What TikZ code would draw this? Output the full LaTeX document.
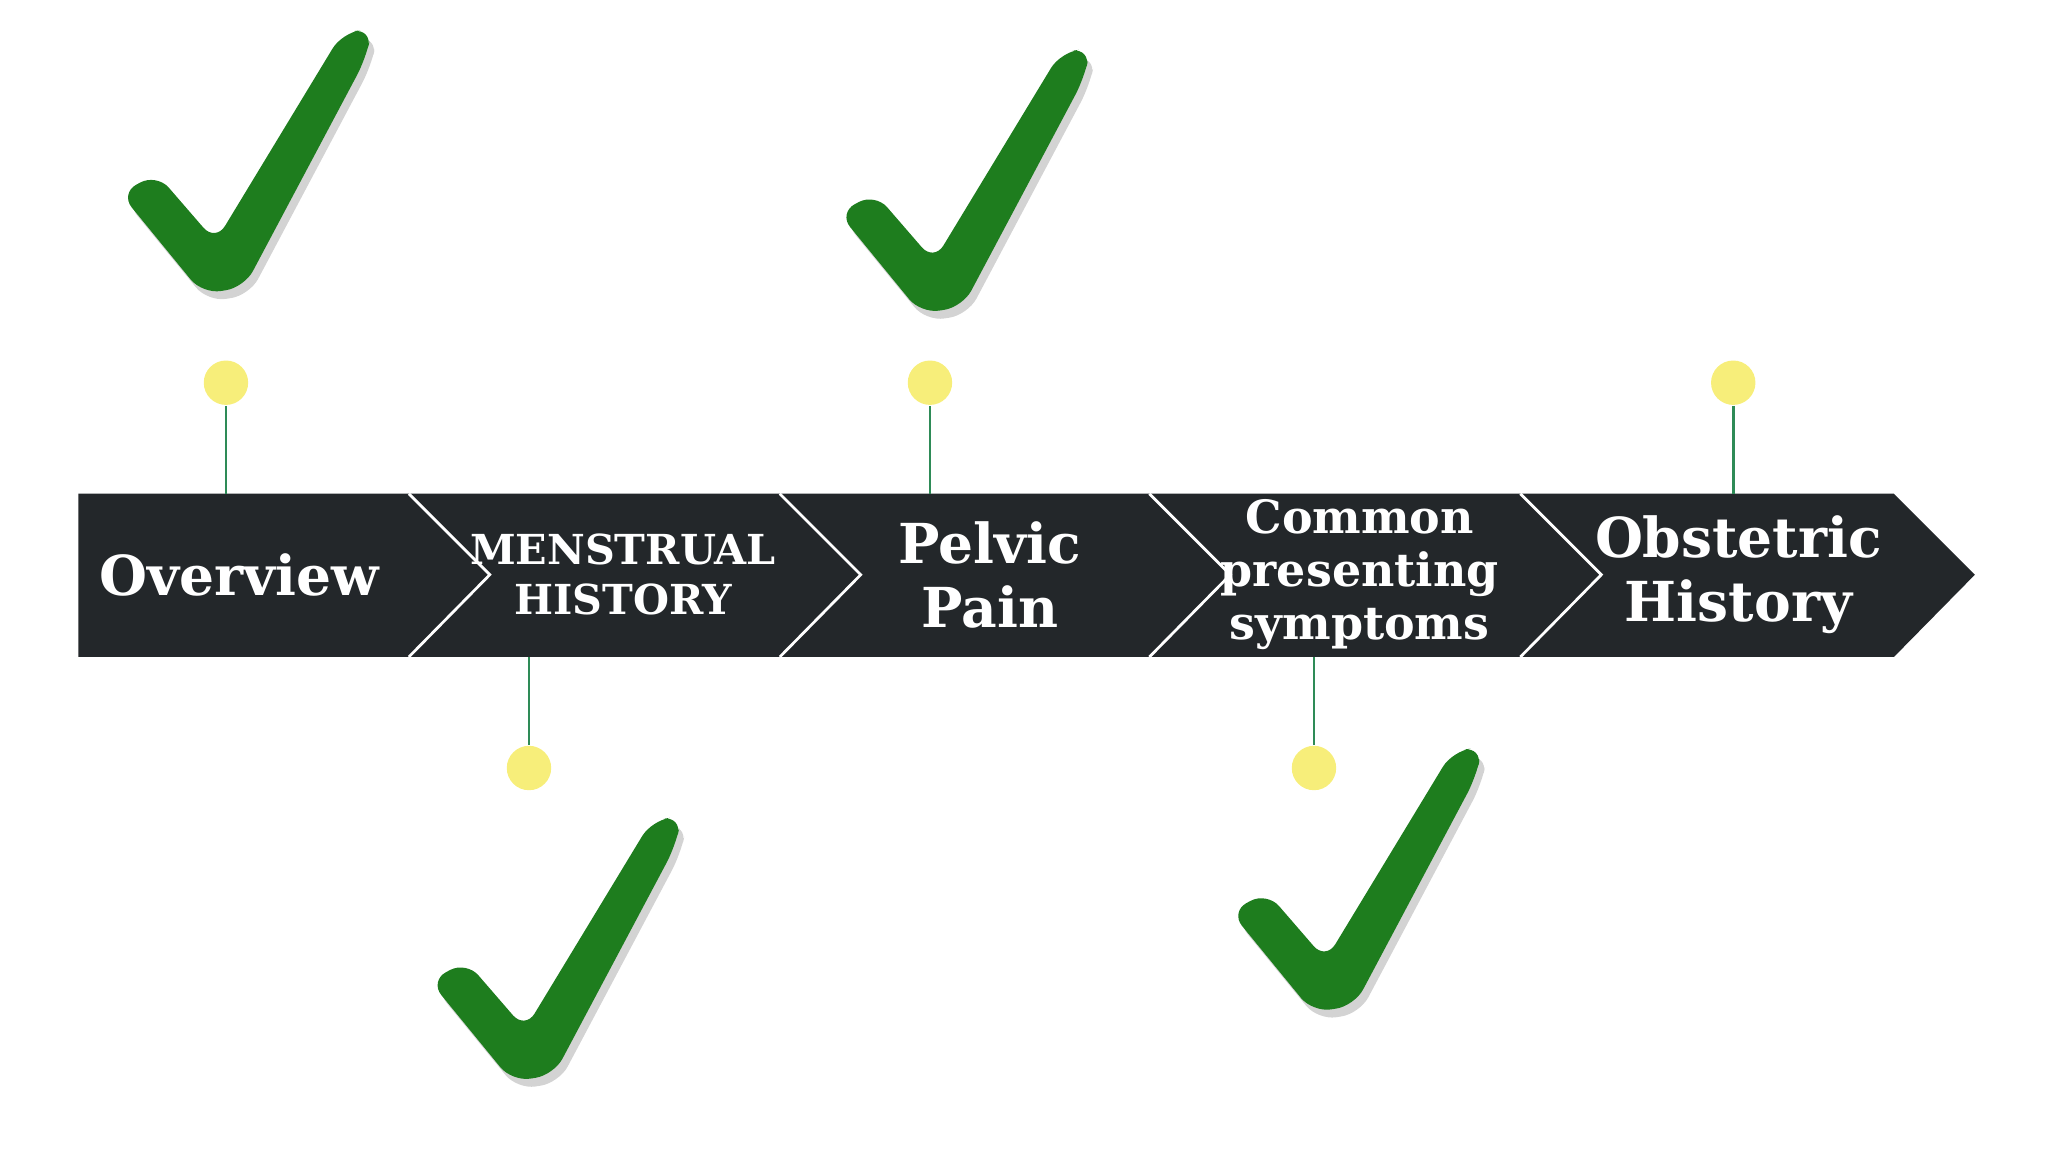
\documentclass[tikz,border=0pt]{standalone}
\usepackage{fontspec}
\setmainfont{DejaVu Serif}
\usetikzlibrary{positioning,shadows,calc}

\definecolor{bandgray}{HTML}{23272A}
\definecolor{dotyellow}{HTML}{F7EE7A}
\definecolor{stemgreen}{HTML}{2E8B57}
\definecolor{tickgreen}{HTML}{1E7D1E}

\tikzset{
  band/.style={fill=bandgray, draw=none},
  sep/.style={draw=white, line width=0.6pt},
  dot/.style={circle, fill=dotyellow, minimum size=0.34cm, inner sep=0pt},
  stem/.style={draw=stemgreen, line width=0.6pt},
  label/.style={text=white, font=\bfseries, align=center},
  tick/.pic={
    \fill[tickgreen, rounded corners=4pt, drop shadow={opacity=0.35,shadow xshift=0.04cm,shadow yshift=-0.06cm}]
      (0.65,0) -- (0.02,0.77) -- (0.30,0.92) -- (0.75,0.40)
      -- (1.72,2.0) -- (1.95,2.03) -- (1.90,1.80) -- (0.97,0.05) -- cycle;
  }
}

\begin{document}
\begin{tikzpicture}[x=1cm,y=1cm]
\useasboundingbox (0,0) rectangle (15.68,8.82);
% timeline band
\fill[band] (0.60,5.04) -- (14.50,5.04) -- (15.12,4.42) -- (14.50,3.79) -- (0.60,3.79) -- cycle;
\foreach \x in {3.13,5.97,8.80,11.64}
  \draw[sep] (\x,5.04) -- (\x+0.62,4.42) -- (\x,3.79);

% labels
\node[label, font=\bfseries\fontsize{12}{14}\selectfont] (overview) at (1.83,4.42) {Overview};
\node[label, font=\bfseries\fontsize{9}{11}\selectfont] (menstrual) at (4.77,4.42) {MENSTRUAL\\HISTORY};
\node[label, font=\bfseries\fontsize{12}{14}\selectfont] (pelvic) at (7.58,4.42) {Pelvic\\Pain};
\node[label, font=\bfseries\fontsize{10}{11.5}\selectfont] (common) at (10.41,4.42) {Common\\presenting\\symptoms};
\node[label, font=\bfseries\fontsize{12}{14}\selectfont] (obstetric) at (13.31,4.42) {Obstetric\\History};

% dots and stems
\node[dot] (d1) at (1.73,5.89) {};
\node[dot] (d2) at (4.05,2.94) {};
\node[dot] (d3) at (7.12,5.89) {};
\node[dot] (d4) at (10.06,2.94) {};
\node[dot] (d5) at (13.27,5.89) {};
\coordinate (s1) at (1.73,5.04);
\coordinate (s2) at (4.05,3.79);
\coordinate (s3) at (7.12,5.04);
\coordinate (s4) at (10.06,3.79);
\coordinate (s5) at (13.27,5.04);
\foreach \i in {1,...,5}
  \draw[stem] (d\i) -- (s\i);

% ticks
\pic at (0.90,6.57) {tick};
\pic at (3.27,0.54) {tick};
\pic at (6.40,6.42) {tick};
\pic at (9.40,1.07) {tick};
\end{tikzpicture}
\end{document}
